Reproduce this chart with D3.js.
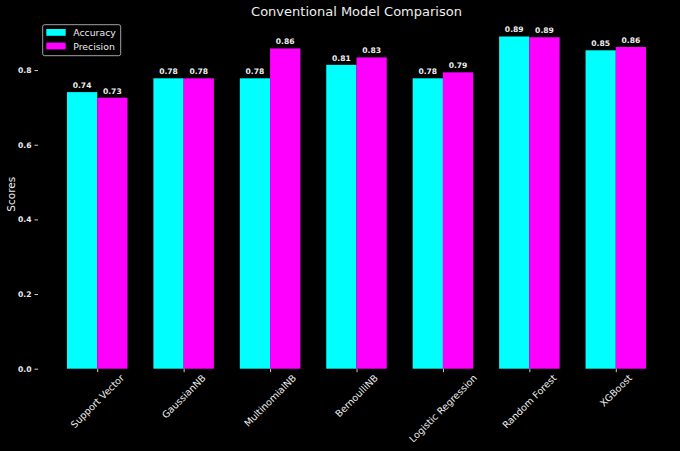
<!DOCTYPE html>
<html><head><meta charset="utf-8">
<script src="https://cdn.jsdelivr.net/npm/d3@7"></script>
<style>body{margin:0;background:#000}svg{display:block}</style>
</head><body>
<svg id="c" width="680" height="451"></svg>
<script>
const categories = ["Support Vector","GaussianNB","MultinomialNB","BernoulliNB","Logistic Regression","Random Forest","XGBoost"];
const accuracy = [0.741,0.778,0.778,0.814,0.778,0.890,0.853];
const precision = [0.726,0.778,0.858,0.834,0.794,0.888,0.862];
const seriesNames = ["Accuracy","Precision"];
const yTicks = [0.0,0.2,0.4,0.6,0.8];
const colors = ["#00ffff","#ff00ff"];

const svg = d3.select("#c");
svg.append("rect").attr("width",680).attr("height",451).attr("fill","#000");
const font = "DejaVu Sans, sans-serif";
const bw = 0.35;
const x = d3.scaleLinear().domain([-0.685, 6.685]).range([38, 675]);
const y = d3.scaleLinear().domain([0, 0.935]).range([368.7, 19.7]);

const series = [accuracy, precision];
series.forEach((vals, s) => {
  const g = svg.append("g");
  g.selectAll("rect").data(vals).join("rect")
    .attr("x", (d,i) => x(i - bw + s*bw))
    .attr("width", x(bw) - x(0))
    .attr("y", d => y(d))
    .attr("height", d => y(0) - y(d))
    .attr("fill", colors[s]);
  g.selectAll("text").data(vals).join("text")
    .attr("x", (d,i) => x(i - bw/2 + s*bw))
    .attr("y", d => y(d) - 4)
    .attr("text-anchor","middle")
    .attr("fill","#eee").attr("font-family",font).attr("font-weight","bold").attr("font-size",7.6)
    .text(d => d.toFixed(2));
});

// y axis
const ya = svg.append("g").attr("transform",`translate(${x.range()[0]},0)`)
  .call(d3.axisLeft(y).tickValues(yTicks).tickFormat(d3.format(".1f")).tickSize(3.5).tickPadding(3));
ya.select(".domain").remove();
ya.selectAll("line").attr("stroke","#fff").attr("stroke-width",0.8);
ya.selectAll("text").attr("fill","#eee").attr("font-family",font).attr("font-weight","bold").attr("font-size",7.6);

// x axis ticks
const xa = svg.append("g").attr("transform",`translate(0,${y(0)})`)
  .call(d3.axisBottom(x).tickValues(d3.range(categories.length)).tickFormat("").tickSize(3.5));
xa.select(".domain").remove();
xa.selectAll("line").attr("stroke","#fff").attr("stroke-width",0.8);

// x labels rotated 45, bbox centred on tick
const lab = svg.append("g");
const xfs = 9.5;
categories.forEach((c,i) => {
  const t = lab.append("text").attr("font-family",font).attr("font-size",xfs).attr("fill","#eee")
    .attr("text-anchor","middle").attr("dominant-baseline","central").text(c);
  const w = t.node().getComputedTextLength();
  const h = xfs;
  const bh = (w + h) * Math.SQRT1_2;
  const cx = x(i), cy = y(0) + 4 + bh/2;
  t.attr("transform",`translate(${cx},${cy}) rotate(-45)`);
});

// title
svg.append("text").attr("x",(x.range()[0]+x.range()[1])/2).attr("y",16)
  .attr("text-anchor","middle").attr("fill","#eee").attr("font-family",font).attr("font-size",13)
  .text("Conventional Model Comparison");

// y label
svg.append("text").attr("transform",`translate(15,${(y.range()[0]+y.range()[1])/2}) rotate(-90)`)
  .attr("text-anchor","middle").attr("fill","#eee").attr("font-family",font).attr("font-size",10.5)
  .text("Scores");

// legend
const lg = svg.append("g");
lg.append("rect").attr("x",42.7).attr("y",24.7).attr("width",78).attr("height",31).attr("rx",2)
  .attr("fill","#000").attr("stroke","#ccc").attr("stroke-width",0.8);
seriesNames.forEach((n,i) => {
  lg.append("rect").attr("x",46.3).attr("y",29 + i*13.6).attr("width",19.4).attr("height",6.8).attr("fill",colors[i]);
  lg.append("text").attr("x",73.3).attr("y",32.5 + i*13.6).attr("dominant-baseline","central")
    .attr("fill","#eee").attr("font-family",font).attr("font-size",9.3).text(n);
});
</script>
</body></html>
